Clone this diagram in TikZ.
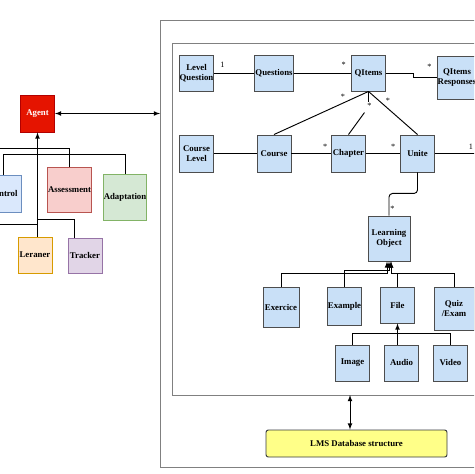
\documentclass[tikz,border=0pt]{standalone}
\usepackage{fontspec}
\setmainfont{Liberation Serif}
\definecolor{boxblue}{HTML}{C9E0F7}
\definecolor{boxline}{HTML}{4D4D4D}
\definecolor{agentred}{HTML}{E51400}
\definecolor{agentline}{HTML}{B20000}
\definecolor{ctrlblue}{HTML}{DAE8FC}
\definecolor{ctrlline}{HTML}{6C8EBF}
\definecolor{asspink}{HTML}{F8CECC}
\definecolor{assline}{HTML}{B85450}
\definecolor{adagreen}{HTML}{D5E8D4}
\definecolor{adaline}{HTML}{82B366}
\definecolor{lerorange}{HTML}{FFE6CC}
\definecolor{lerline}{HTML}{D79B00}
\definecolor{trkpurple}{HTML}{E1D5E7}
\definecolor{trkline}{HTML}{9673A6}
\definecolor{dbyellow}{HTML}{FFFF88}
\definecolor{dbline}{HTML}{36393D}
\begin{document}
\begin{tikzpicture}[x=0.3mm,y=-0.3mm,>=latex,line width=0.8pt,font=\fontsize{7.5}{8.5}\selectfont\bfseries]
\tikzstyle{cls}=[rectangle,draw=boxline,fill=boxblue,align=center,inner sep=0.5pt,minimum width=10.2mm,minimum height=10.8mm]
\tikzstyle{mod}=[rectangle,align=center,inner sep=0.5pt,minimum width=10.2mm,minimum height=10.8mm]
\tikzstyle{mult}=[font=\fontsize{7}{8}\selectfont,inner sep=0pt]
\useasboundingbox (0,0) rectangle (474,474);
\clip (0,0) rectangle (474,474);
% frames
\draw[gray] (160,20) rectangle (520,467);
\draw[gray] (172,43) rectangle (520,395);
\coordinate (outer) at (160,113.5);
\coordinate (inner) at (350,395);
% LMS classes
\node[cls](LQ) at (196.5,73) {Level\\Question};
\node[cls](Qs) at (274,73) {Questions};
\node[cls](QI) at (368.5,73) {QItems};
\node[cls,minimum width=12mm,minimum height=12.9mm](QR) at (457,77.5) {QItems\\Responses};
\node[cls,minimum height=11.1mm](CL) at (196.5,153.5) {Course\\Level};
\node[cls,minimum height=11.1mm](Co) at (274,153.5) {Course};
\node[cls,minimum height=11.1mm](Ch) at (348.5,153.5) {Chapter};
\node[cls,minimum height=11.1mm](Un) at (417.5,153.5) {Unite};
\node[cls,minimum width=12.6mm,minimum height=13.5mm](LO) at (389,238.5) {Learning\\Object};
\node[cls,minimum width=10.8mm,minimum height=12mm](Ex) at (281,307) {Exercice};
\node[cls,minimum height=11.4mm](Ep) at (344.5,306) {Example};
\node[cls](Fi) at (397.5,305) {File};
\node[cls,minimum width=12mm,minimum height=12.9mm](Qz) at (454,308.5) {Quiz\\/Exam};
\node[cls](Im) at (352.5,363) {Image};
\node[cls](Au) at (401.5,363) {Audio};
\node[cls](Vi) at (450.5,363) {Video};
\node[mod,draw=dbline,fill=dbyellow,rounded corners=2pt,minimum width=54.3mm,minimum height=8.1mm](DB) at (356.5,443.5) {LMS Database structure};
% agent modules
\node[mod,draw=agentline,fill=agentred,text=white,minimum height=11.1mm](Ag) at (37.5,113.5) {Agent};
\node[mod,draw=ctrlline,fill=ctrlblue,minimum width=10.8mm,minimum height=11.1mm](Ct) at (3,193.5) {Control};
\node[mod,draw=assline,fill=asspink,minimum width=12.3mm,minimum height=13.5mm](As) at (69.5,189.5) {Assessment};
\node[mod,draw=adaline,fill=adagreen,minimum width=12.6mm,minimum height=13.8mm](Ad) at (125,197) {Adaptation};
\node[mod,draw=lerline,fill=lerorange](Le) at (35,255) {Leraner};
\node[mod,draw=trkline,fill=trkpurple,minimum height=10.5mm](Tr) at (85,255.5) {Tracker};

\draw (LQ) -- (Qs) node[mult,pos=0.2,above=4pt](m1){1};
\draw (Qs) -- (QI) node[mult,pos=0.87,above=4pt](m2){*};
\draw (QI.east) -- ++(27,0) |- (QR.west) node[mult,pos=0.85,above=6pt](m3){*};
\draw (QI.south) -- (Co.north);
\node[mult](m4) at (343,97) {*};
\draw (QI.south) -- ++(0,11);
\draw (Ch.north) -- ++(16,-22);
\node[mult](m5) at (369.5,106) {*};
\draw (QI.south) -- (Un.north);
\node[mult](m6) at (388,101) {*};
\draw (CL) -- (Co);
\draw (Co) -- (Ch) node[mult,pos=0.85,above=3pt](m7){*};
\draw (Ch) -- (Un) node[mult,pos=0.8,above=3pt](m8){*};
\draw (Un.east) -- ++(60,0) node[mult,pos=0.6,above=3pt](m9){1};
\draw[rounded corners=3pt] (Un.south) -- ++(0,21) -| (LO.north);
\node[mult](m10) at (392.5,209) {*};
\draw[->] (Ex.north) -- ++(0,-13) -| ([xshift=-0.6mm]LO.south);
\draw[->] (Ep.north) -- ++(0,-16) -| (LO.south);
\draw[->] (Fi.north) -- ++(0,-13) -| ([xshift=0.6mm]LO.south);
\draw[->] (Qz.north) -- ++(0,-13) -| ([xshift=0.6mm]LO.south);
\draw (Im.north) -- ++(0,-11) -| (Vi.north);
\draw[->] (Au.north -| Fi.south) -- (Fi.south);
\draw[<->] (inner) -- (inner |- DB.north);

\draw[<->] (Ag.east) -- (outer);
\draw[->] (Le.north -| Ag.south) -- (Ag.south);
\draw (As.north) -- ++(0,-18) -- ++(-85,0);
\draw (Ct.north) -- ++(0,-20) -| (Ad.north);
\draw ([xshift=-3.3mm]Tr.north) -- ++(0,-18) -- ++(-37,0);
\draw ([yshift=-27.6mm]Ag.south) -- ++(-45,0);
\end{tikzpicture}
\end{document}
